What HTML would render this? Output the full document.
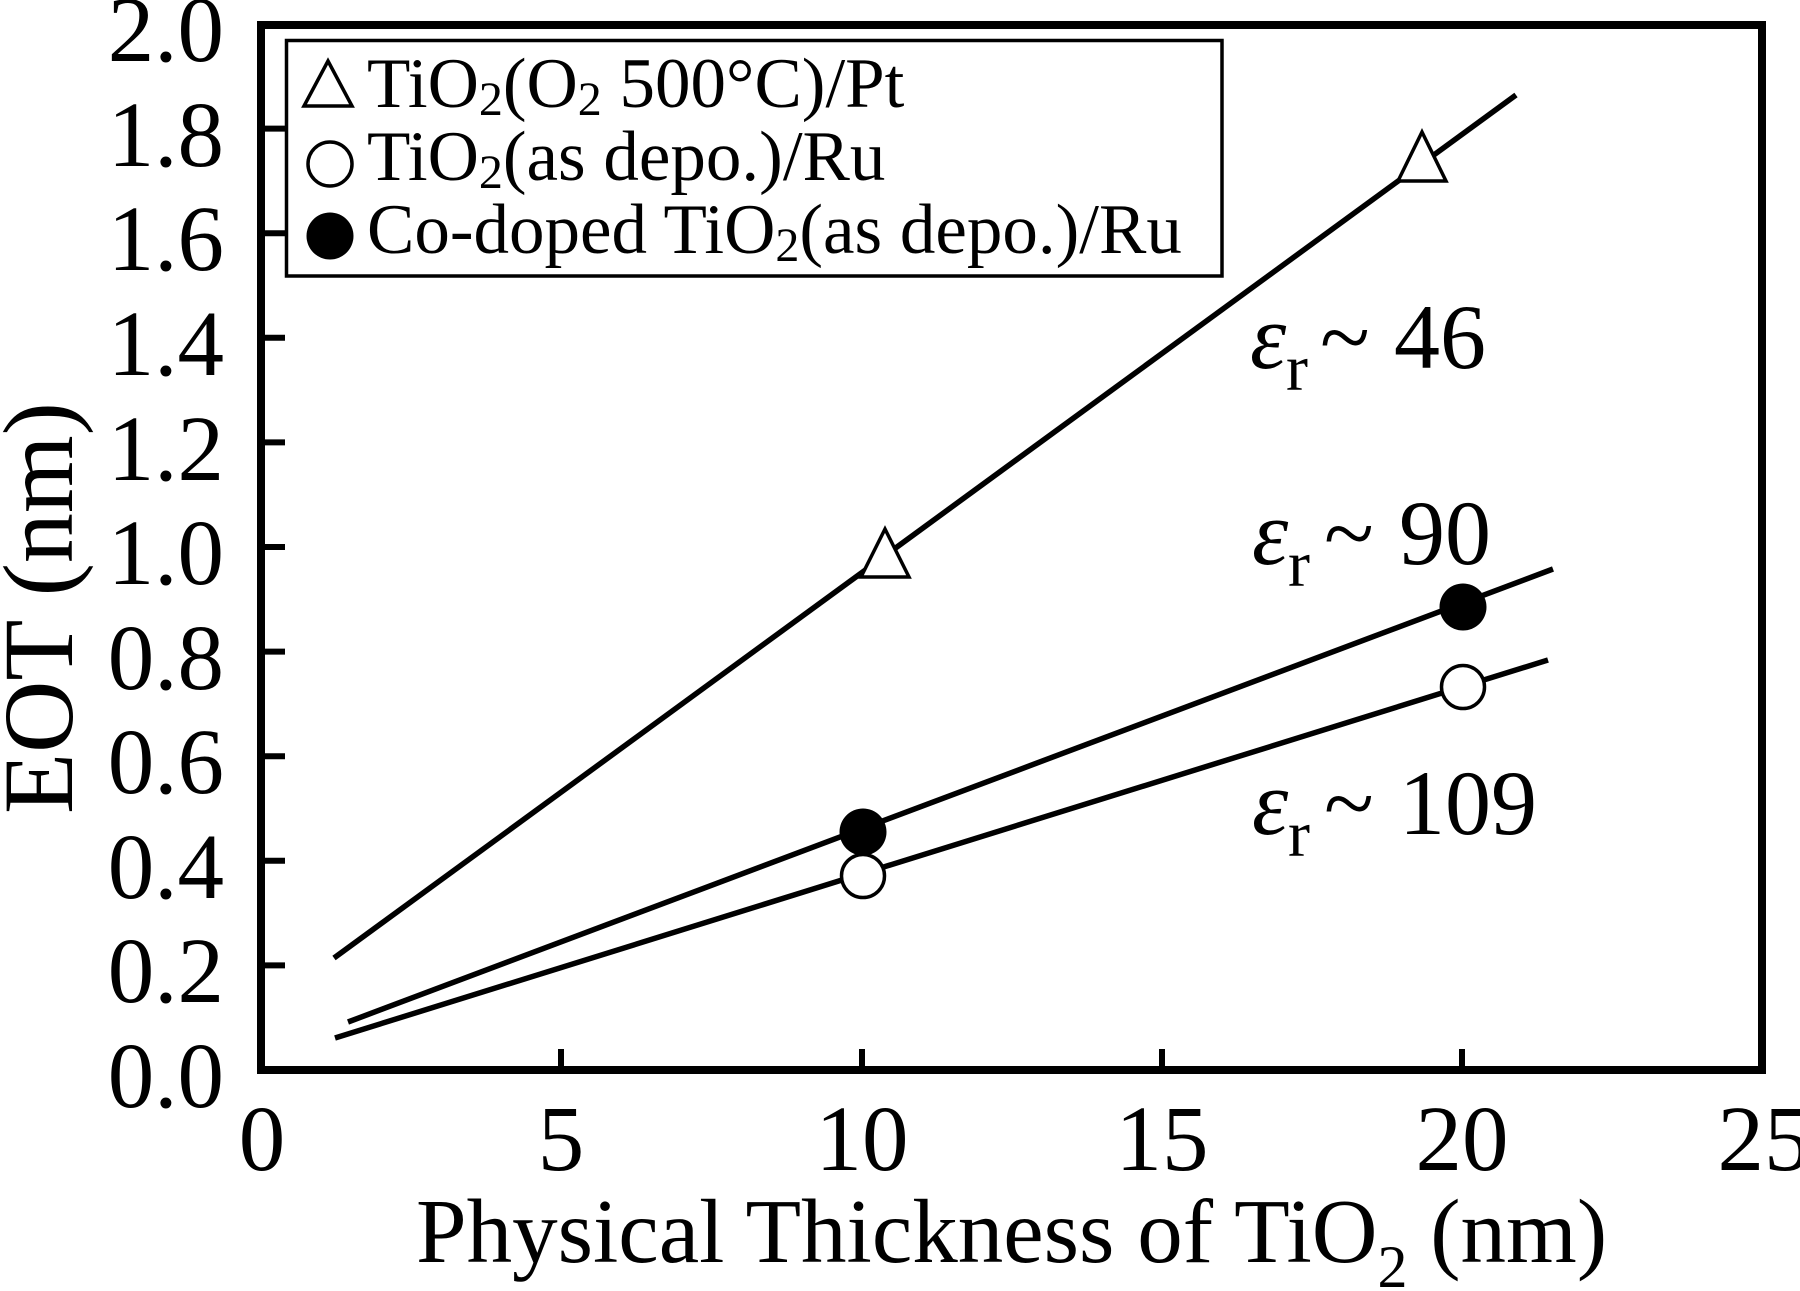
<!DOCTYPE html>
<html>
<head>
<meta charset="utf-8">
<style>
  html,body{margin:0;padding:0;background:#fff;}
  svg{display:block;}
  text{font-family:"Liberation Serif","Times New Roman",serif;fill:#000;}
</style>
</head>
<body>
<svg width="1800" height="1291" viewBox="0 0 1800 1291" xmlns="http://www.w3.org/2000/svg">
  <rect x="0" y="0" width="1800" height="1291" fill="#fff"/>

  <!-- Axes box -->
  <rect x="261" y="25" width="1501" height="1045" fill="none" stroke="#000" stroke-width="8"/>

  <!-- Y ticks -->
  <g stroke="#000" stroke-width="6">
    <line x1="261" y1="965.4" x2="285" y2="965.4"/>
    <line x1="261" y1="860.8" x2="285" y2="860.8"/>
    <line x1="261" y1="756.2" x2="285" y2="756.2"/>
    <line x1="261" y1="651.6" x2="285" y2="651.6"/>
    <line x1="261" y1="547" x2="285" y2="547"/>
    <line x1="261" y1="442.4" x2="285" y2="442.4"/>
    <line x1="261" y1="337.8" x2="285" y2="337.8"/>
    <line x1="261" y1="233.2" x2="285" y2="233.2"/>
    <line x1="261" y1="128.6" x2="285" y2="128.6"/>
  </g>
  <!-- X ticks -->
  <g stroke="#000" stroke-width="6">
    <line x1="561" y1="1070" x2="561" y2="1049"/>
    <line x1="862" y1="1070" x2="862" y2="1049"/>
    <line x1="1162" y1="1070" x2="1162" y2="1049"/>
    <line x1="1462" y1="1070" x2="1462" y2="1049"/>
  </g>

  <!-- Y tick labels -->
  <g font-size="93" text-anchor="end">
    <text x="224" y="1107">0.0</text>
    <text x="224" y="1002">0.2</text>
    <text x="224" y="898">0.4</text>
    <text x="224" y="793">0.6</text>
    <text x="224" y="689">0.8</text>
    <text x="224" y="584">1.0</text>
    <text x="224" y="480">1.2</text>
    <text x="224" y="375">1.4</text>
    <text x="224" y="270">1.6</text>
    <text x="224" y="166">1.8</text>
    <text x="224" y="61">2.0</text>
  </g>

  <!-- X tick labels -->
  <g font-size="93" text-anchor="middle">
    <text x="262" y="1170">0</text>
    <text x="561" y="1170">5</text>
    <text x="862" y="1170">10</text>
    <text x="1162" y="1170">15</text>
    <text x="1462" y="1170">20</text>
    <text x="1764" y="1170">25</text>
  </g>

  <!-- Axis titles -->
  <text x="416" y="1262" font-size="91">Physical Thickness of TiO<tspan font-size="60" dy="25">2</tspan><tspan dy="-25"> (nm)</tspan></text>
  <text transform="translate(72,608) rotate(-90)" font-size="100" text-anchor="middle">EOT (nm)</text>

  <!-- Legend -->
  <rect x="286.5" y="40.5" width="935.5" height="235.5" fill="#fff" stroke="#000" stroke-width="3.5"/>
  <polygon points="328,61 352,106 304,106" fill="#fff" stroke="#000" stroke-width="3.5"/>
  <circle cx="330" cy="164" r="22" fill="#fff" stroke="#000" stroke-width="3.5"/>
  <circle cx="330" cy="236" r="23.5" fill="#000"/>
  <g font-size="71">
    <text x="367" y="107">TiO<tspan font-size="48" dy="8">2</tspan><tspan dy="-8">(O</tspan><tspan font-size="48" dy="8">2</tspan><tspan dy="-8"> 500°C)/Pt</tspan></text>
    <text x="367" y="180">TiO<tspan font-size="48" dy="8">2</tspan><tspan dy="-8">(as depo.)/Ru</tspan></text>
    <text x="367" y="253">Co-doped TiO<tspan font-size="48" dy="8">2</tspan><tspan dy="-8">(as depo.)/Ru</tspan></text>
  </g>

  <!-- Data lines -->
  <g stroke="#000" stroke-width="5.5" stroke-linecap="butt">
    <line x1="334" y1="958" x2="1516" y2="95"/>
    <line x1="348" y1="1022" x2="1553" y2="569"/>
    <line x1="335" y1="1038" x2="1548" y2="660"/>
  </g>

  <!-- Markers: triangles -->
  <polygon points="885,529 909,577 861,577" fill="#fff" stroke="#000" stroke-width="3.5"/>
  <polygon points="1422,132 1446,181 1398,181" fill="#fff" stroke="#000" stroke-width="3.5"/>
  <!-- filled circles -->
  <circle cx="863" cy="832" r="23.5" fill="#000"/>
  <circle cx="1463" cy="607" r="23.5" fill="#000"/>
  <!-- open circles -->
  <circle cx="863" cy="876" r="21.5" fill="#fff" stroke="#000" stroke-width="3.5"/>
  <circle cx="1463" cy="687" r="21.5" fill="#fff" stroke="#000" stroke-width="3.5"/>

  <!-- Annotations -->
  <g font-size="92">
    <text x="1250" y="368" font-style="italic">ε</text>
    <text x="1286" y="390" font-size="66">r</text>
    <text x="1320" y="368">~</text>
    <text x="1394" y="368">46</text>

    <text x="1252" y="564" font-style="italic">ε</text>
    <text x="1288" y="586" font-size="66">r</text>
    <text x="1324" y="564">~</text>
    <text x="1399" y="564">90</text>

    <text x="1252" y="834" font-style="italic">ε</text>
    <text x="1288" y="856" font-size="66">r</text>
    <text x="1324" y="834">~</text>
    <text x="1399" y="834">109</text>
  </g>
</svg>
</body>
</html>
